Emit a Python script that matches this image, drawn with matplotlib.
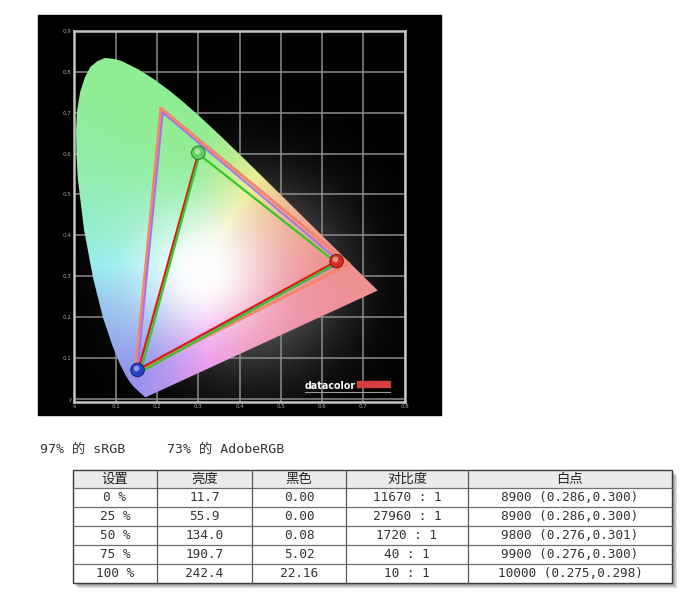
import numpy as np
import matplotlib.pyplot as plt
from matplotlib.patches import Polygon, Rectangle

# CIE 1931 spectral locus, 380 - 700 nm
locus_x = [0.1741, 0.1733, 0.1714, 0.1689, 0.1644, 0.1566, 0.1440, 0.1355, 0.1241, 0.1096,
           0.0913, 0.0687, 0.0454, 0.0235, 0.0082, 0.0050, 0.0039, 0.0063, 0.0139, 0.0250,
           0.0389, 0.0560, 0.0743, 0.0943, 0.1142,
           0.1547, 0.1929, 0.2296, 0.2658, 0.3016, 0.3373, 0.3731, 0.4087, 0.4441, 0.4788,
           0.5125, 0.5448, 0.5752, 0.6029, 0.6270, 0.6482, 0.6658, 0.6915, 0.7079, 0.7190,
           0.7260, 0.7300, 0.7334, 0.7347]
locus_y = [0.0050, 0.0048, 0.0051, 0.0069, 0.0109, 0.0177, 0.0297, 0.0399, 0.0578, 0.0868,
           0.1327, 0.2007, 0.2950, 0.4127, 0.5384, 0.5980, 0.6548, 0.7030, 0.7502, 0.7850,
           0.8120, 0.8260, 0.8338, 0.8315, 0.8262,
           0.8059, 0.7816, 0.7543, 0.7243, 0.6923, 0.6589, 0.6245, 0.5896, 0.5547, 0.5202,
           0.4866, 0.4544, 0.4242, 0.3965, 0.3725, 0.3514, 0.3340, 0.3083, 0.2920, 0.2809,
           0.2740, 0.2700, 0.2666, 0.2653]

# gamut triangles (G, R, B)
adobe_x = [0.210, 0.665, 0.148]
adobe_y = [0.710, 0.330, 0.065]
ref_x = [0.214, 0.645, 0.153]
ref_y = [0.700, 0.334, 0.072]
# red line: G -> B -> R
srgb_x = [0.300, 0.155, 0.635]
srgb_y = [0.600, 0.072, 0.337]
meas_x = [0.303, 0.636, 0.160]
meas_y = [0.597, 0.332, 0.066]

# measured primaries (balls)
prim_x = [0.300, 0.635, 0.153]
prim_y = [0.602, 0.337, 0.071]
prim_col = ['#62cf5c', '#d42a22', '#2a40c8']
prim_edge = ['#2e7a2a', '#7a1410', '#121e6a']

# table
headers = ['设置', '亮度', '黑色', '对比度', '白点']
settings = ['0 %', '25 %', '50 %', '75 %', '100 %']
brightness = ['11.7', '55.9', '134.0', '190.7', '242.4']
black = ['0.00', '0.00', '0.08', '5.02', '22.16']
contrast = ['11670 : 1', '27960 : 1', '1720 : 1', '40 : 1', '10 : 1']
whitepoint = ['8900 (0.286,0.300)', '8900 (0.286,0.300)', '9800 (0.276,0.301)',
              '9900 (0.276,0.300)', '10000 (0.275,0.298)']

fig = plt.figure(figsize=(6.9, 5.93), dpi=100)
fig.patch.set_facecolor('white')

# black panel behind the diagram
fig.add_artist(Rectangle((38 / 690, 1 - 415 / 593), 403 / 690, 400 / 593,
                         transform=fig.transFigure, color='black', zorder=-1))

ax = fig.add_axes([74.4 / 690, (593 - 401.5) / 593, 330.3 / 690, 370.7 / 593])
ax.set_facecolor('black')
ax.set_xlim(0, 0.8)
ax.set_ylim(-0.006, 0.9)

# glow on the black background
gx, gy = np.meshgrid(np.linspace(0, 0.8, 480), np.linspace(0.001, 0.9, 540))
d2 = (gx - 0.42) ** 2 + (gy - 0.30) ** 2
glow = np.zeros(gx.shape + (4,))
glow[..., :3] = 1
glow[..., 3] = 0.45 * np.exp(-d2 / (2 * 0.16 ** 2))
ax.imshow(glow, extent=[0, 0.8, 0.001, 0.9], origin='lower', aspect='auto', zorder=0.2)

# chromaticity colours
X = gx / gy
Z = (1 - gx - gy) / gy
r = 3.2406 * X - 1.5372 - 0.4986 * Z
g = -0.9689 * X + 1.8758 + 0.0415 * Z
b = 0.0557 * X - 0.2040 + 1.0570 * Z
rgb = np.clip(np.dstack([r, g, b]), 0, None)
rgb = rgb / np.maximum(rgb.max(axis=2, keepdims=True), 1e-6)
rgb = 0.57 + 0.36 * rgb
w = np.exp(-((gx - 0.31) ** 2 + (gy - 0.31) ** 2) / (2 * 0.11 ** 2))[..., None]
rgb = rgb * (1 - w) + w
rgb = np.clip(rgb, 0, 1)
img = ax.imshow(rgb, extent=[0, 0.8, 0.001, 0.9], origin='lower', aspect='auto', zorder=1)
horseshoe = Polygon(np.column_stack([locus_x, locus_y]), closed=True, transform=ax.transData)
img.set_clip_path(horseshoe)

# gamut lines
ax.plot(adobe_x + adobe_x[:1], adobe_y + adobe_y[:1], color='#f2876c', lw=2.3, zorder=3)
ax.plot(ref_x + ref_x[:1], ref_y + ref_y[:1], color='#a474e6', lw=1.4, zorder=3.1)
ax.plot(srgb_x, srgb_y, color='#d81e16', lw=1.6, zorder=3.2)
ax.plot(meas_x + meas_x[:1], meas_y + meas_y[:1], color='#35c52c', lw=1.6, zorder=3.3)

# primaries
ax.scatter(prim_x, prim_y, s=95, c=prim_col, edgecolors=prim_edge, linewidths=0.7, zorder=5)
ax.scatter(np.array(prim_x) - 0.004, np.array(prim_y) + 0.005, s=18, c='white',
           alpha=0.45, linewidths=0, zorder=6)

# grid, frame, ticks
ax.set_axisbelow(True)
ax.grid(color='#8c8c8c', lw=1.1)
for s in ax.spines.values():
    s.set_color('#c4c4c4')
    s.set_linewidth(1.8)
xt = np.arange(0, 0.81, 0.1)
yt = np.arange(0, 0.91, 0.1)
ax.set_xticks(xt)
ax.set_xticklabels(['x'] + ['%.1f' % v for v in xt[1:]])
ax.set_yticks(yt)
ax.set_yticklabels(['y'] + ['%.1f' % v for v in yt[1:]])
ax.tick_params(length=0, labelsize=4, colors='#a8a8a8', pad=2)

# datacolor logo
ax.text(0.558, 0.024, 'datacolor', color='white', fontsize=6.9, fontweight='bold',
        va='baseline', ha='left', zorder=7)
ax.add_patch(Rectangle((0.684, 0.029), 0.080, 0.015, color='#d4403e', zorder=7))
ax.plot([0.558, 0.764], [0.016, 0.016], color='#9a9a9a', lw=0.8, zorder=7)

# text and table in pixel coordinates
tx = fig.add_axes([0, 0, 1, 1])
tx.set_xlim(0, 690)
tx.set_ylim(593, 0)
tx.axis('off')

fam = ['DejaVu Sans Mono', 'Noto Sans CJK SC']
tx.text(40, 449, '97% 的 sRGB', fontsize=9.5, family=fam, color='#333333', va='center')
tx.text(167, 449, '73% 的 AdobeRGB', fontsize=9.5, family=fam, color='#333333', va='center')

col_edges = [72.7, 157, 252, 346, 468, 672]
row_edges = [470, 488, 507, 526, 545, 564, 583]
x0, x1 = col_edges[0], col_edges[-1]
y0, y1 = row_edges[0], row_edges[-1]

for i in range(1, 7):
    tx.add_patch(Rectangle((x0 + 1.5 + i * 0.6, y0 + 1.5 + i * 0.6), x1 - x0, y1 - y0,
                           color='#000000', alpha=0.07, lw=0))
tx.add_patch(Rectangle((x0, y0), x1 - x0, y1 - y0, color='white', lw=0))
tx.add_patch(Rectangle((x0, y0), x1 - x0, row_edges[1] - y0, color='#ebebeb', lw=0))

for y in row_edges[1:-1]:
    tx.plot([x0, x1], [y, y], color='#6e6e6e', lw=0.9)
for x in col_edges[1:-1]:
    tx.plot([x, x], [y0, y1], color='#5a5a5a', lw=0.9)
tx.add_patch(Rectangle((x0, y0), x1 - x0, y1 - y0, fill=False, ec='#3c3c3c', lw=1.0))

centers = [(col_edges[i] + col_edges[i + 1]) / 2 for i in range(5)]
for i, h in enumerate(headers):
    tx.text(centers[i], (row_edges[0] + row_edges[1]) / 2 - 0.5, h, fontsize=9.6,
            family='Noto Sans CJK SC', color='#222222', ha='center', va='center')

columns = [settings, brightness, black, contrast, whitepoint]
for j, col in enumerate(columns):
    for i, val in enumerate(col):
        yc = (row_edges[i + 1] + row_edges[i + 2]) / 2
        tx.text(centers[j], yc, val, fontsize=9.2, family='DejaVu Sans Mono',
                color='#333333', ha='center', va='center')

fig.savefig('out.png', dpi=100)
